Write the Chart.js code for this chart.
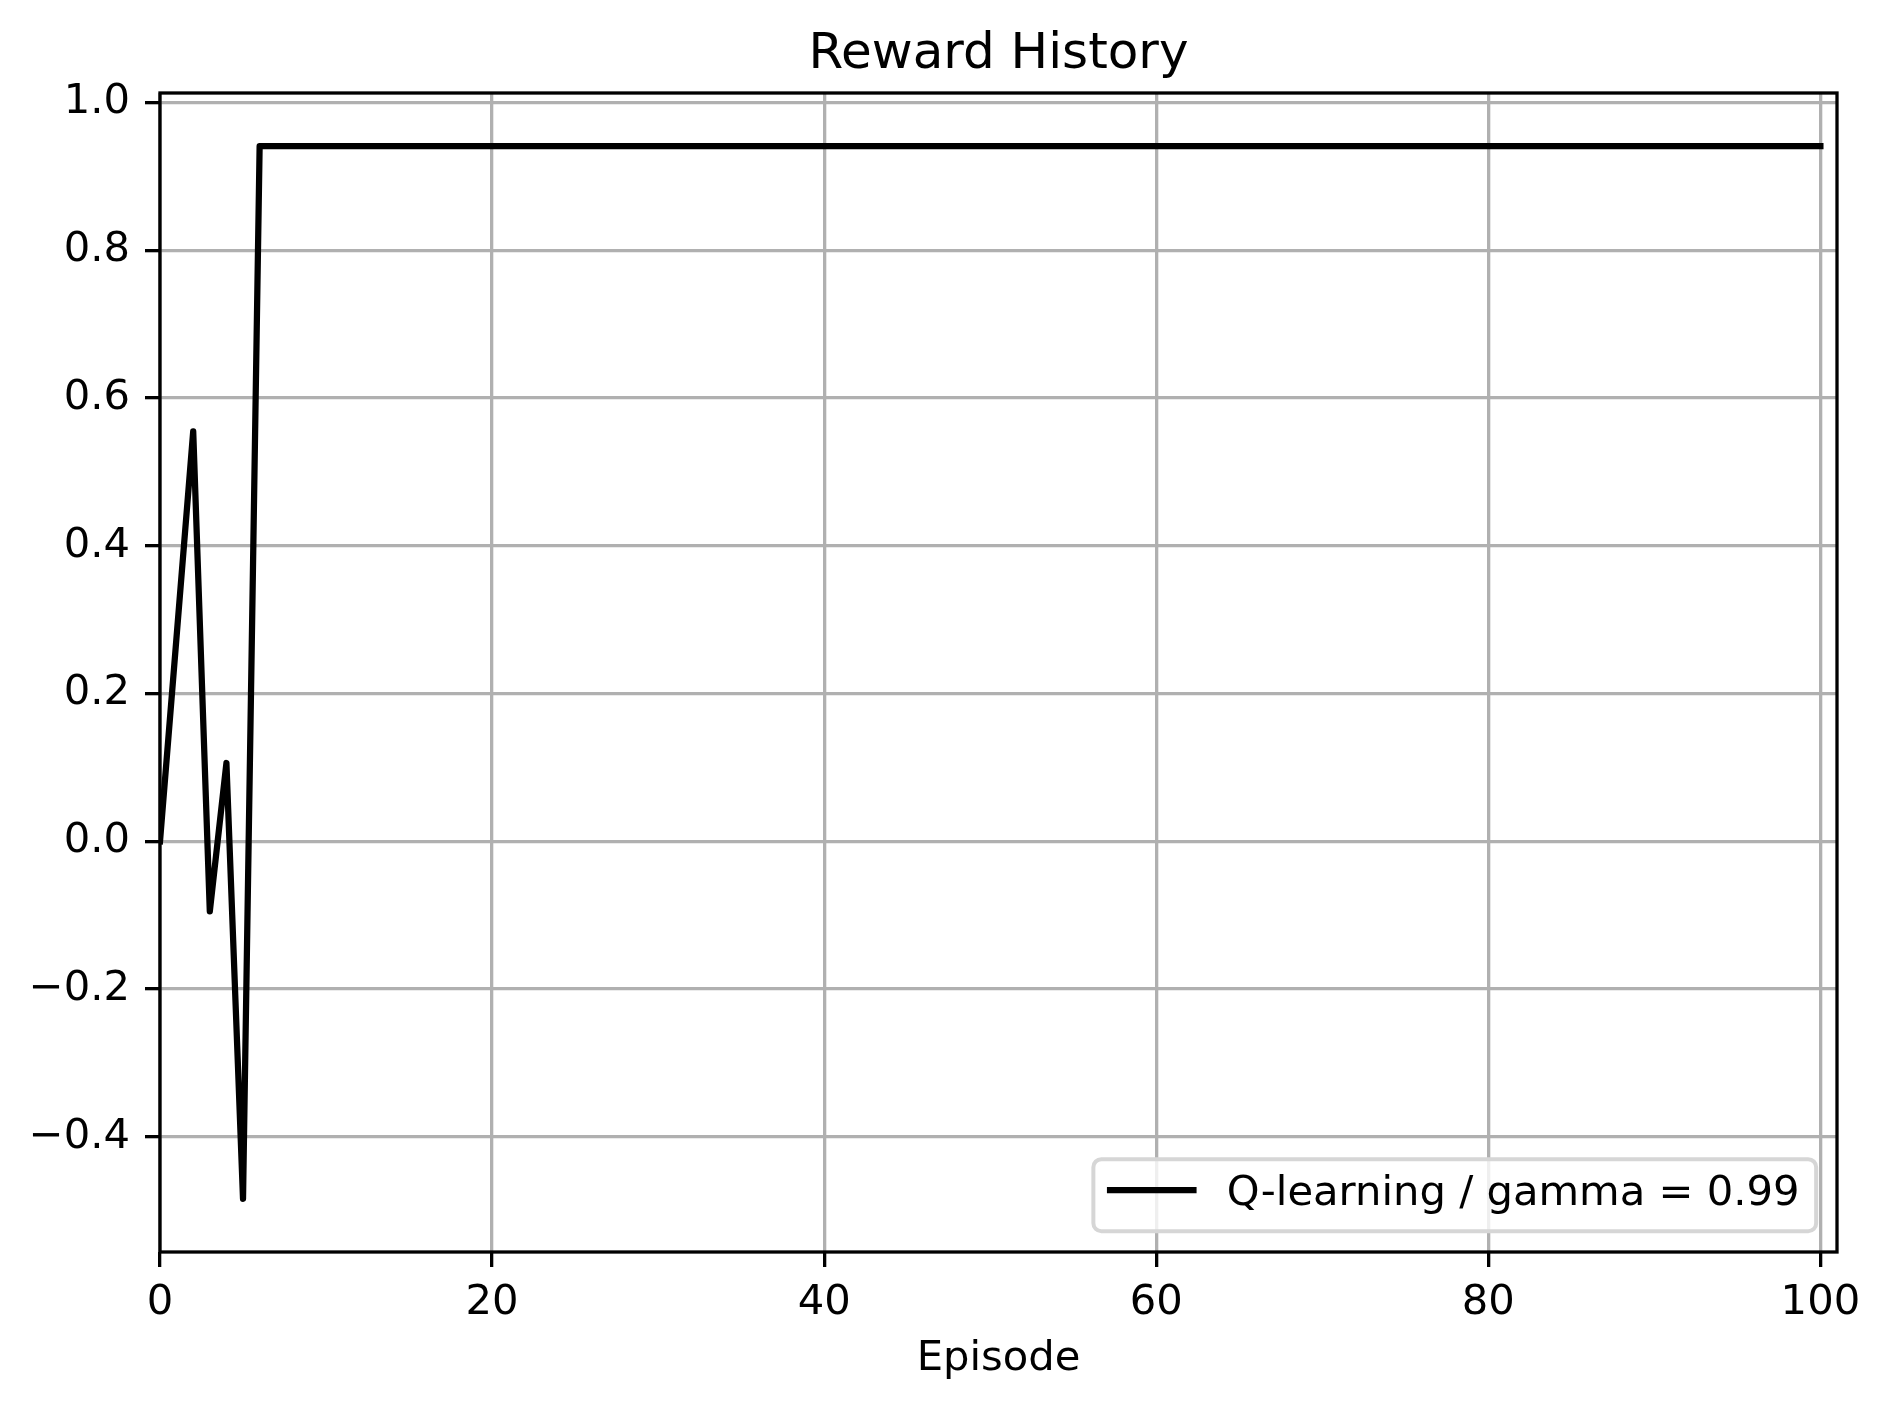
<!DOCTYPE html>
<html>
<head>
<meta charset="utf-8">
<title>Reward History</title>
<script src="https://cdn.jsdelivr.net/npm/chart.js@4.4.1/dist/chart.umd.min.js"></script>
<style>
  body { margin: 0; background: #fff; }
  #wrap { width: 1888px; height: 1408px; }
</style>
</head>
<body>
<div id="wrap"><canvas id="myChart" width="1888" height="1408"></canvas></div>
<script>
// values
let episodes = [0, 2, 3, 4, 5, 6, 100];
let rewards = [0.0, 0.555, -0.095, 0.106, -0.484, 0.941, 0.941];
let xTicks = [0, 20, 40, 60, 80, 100];
let yTicks = [-0.4, -0.2, 0.0, 0.2, 0.4, 0.6, 0.8, 1.0];
let seriesName = "Q-learning / gamma = 0.99";
let chartTitle = "Reward History";
let xTitle = "Episode";

let fontFamily = '"DejaVu Sans", "Liberation Sans", sans-serif';
let fs = 41.7;      // 10pt at 300 dpi
let thin = 3.3;     // 0.8pt

function fmtY(v) {
    if (Math.abs(v) < 1e-9) return "0.0";
    return (v < 0 ? "\u2212" : "") + Math.abs(v).toFixed(1);
}

// top/right spines + title + legend, matplotlib style
let extras = {
    id: "extras",
    afterDatasetsDraw(chart) {
        let ctx = chart.ctx;
        let a = chart.chartArea;
        ctx.save();
        ctx.strokeStyle = "#000";
        ctx.lineWidth = thin;
        ctx.strokeRect(a.left, a.top, a.right - a.left, a.bottom - a.top);
        ctx.restore();
    },
    afterDraw(chart) {
        let ctx = chart.ctx;
        let a = chart.chartArea;
        ctx.save();

        // title
        ctx.fillStyle = "#000";
        ctx.font = "50px " + fontFamily;
        ctx.textAlign = "center";
        ctx.textBaseline = "alphabetic";
        ctx.fillText(chartTitle, (a.left + a.right) / 2, 68);

        // legend, lower right
        ctx.font = fs + "px " + fontFamily;
        let tw = ctx.measureText(seriesName).width;
        let w = 3.6 * fs + tw;
        let h = 72;
        let right = a.right - 0.5 * fs;
        let bottom = a.bottom - 0.5 * fs;
        let left = right - w;
        let top = bottom - h;

        ctx.beginPath();
        ctx.roundRect(left, top, w, h, 8);
        ctx.fillStyle = "rgba(255,255,255,0.8)";
        ctx.fill();
        ctx.lineWidth = 4;
        ctx.strokeStyle = "#d6d6d6";
        ctx.stroke();

        let midY = bottom - 41;
        let hx = left + 0.4 * fs;
        ctx.beginPath();
        ctx.moveTo(hx, midY);
        ctx.lineTo(hx + 2 * fs, midY);
        ctx.lineWidth = 6.25;
        ctx.lineCap = "square";
        ctx.strokeStyle = "#000";
        ctx.stroke();

        ctx.fillStyle = "#000";
        ctx.textAlign = "left";
        ctx.textBaseline = "alphabetic";
        ctx.fillText(seriesName, hx + 2.8 * fs, bottom - 26);

        ctx.restore();
    }
};

let points = episodes.map((e, i) => ({ x: e, y: rewards[i] }));

let chart = new Chart(document.getElementById("myChart"), {
    type: "line",
    data: {
        datasets: [{
            label: seriesName,
            data: points,
            borderColor: "#000",
            borderWidth: 6.25,
            borderJoinStyle: "round",
            borderCapStyle: "square",
            pointRadius: 0,
            tension: 0,
            fill: false
        }]
    },
    options: {
        responsive: false,
        devicePixelRatio: 1,
        animation: false,
        layout: { padding: { top: 93, right: 51, bottom: 0, left: 0 } },
        plugins: {
            legend: { display: false },
            title: { display: false },
            tooltip: { enabled: false }
        },
        scales: {
            x: {
                type: "linear",
                min: 0,
                max: 101,
                afterBuildTicks: s => { s.ticks = xTicks.map(v => ({ value: v })); },
                afterFit: s => { s.height = 156; },
                grid: {
                    color: "#b0b0b0",
                    lineWidth: thin,
                    tickColor: "#000",
                    tickWidth: thin,
                    tickLength: 15
                },
                border: { display: false },
                ticks: {
                    color: "#000",
                    font: { family: fontFamily, size: fs },
                    padding: 11,
                    maxRotation: 0,
                    callback: v => String(v)
                },
                title: {
                    display: true,
                    text: xTitle,
                    color: "#000",
                    font: { family: fontFamily, size: fs, lineHeight: 1.2 },
                    padding: { top: 0, bottom: 24 }
                }
            },
            y: {
                type: "linear",
                min: -0.556,
                max: 1.013,
                afterBuildTicks: s => { s.ticks = yTicks.map(v => ({ value: v })); },
                afterFit: s => { s.width = 160; },
                grid: {
                    color: "#b0b0b0",
                    lineWidth: thin,
                    tickColor: "#000",
                    tickWidth: thin,
                    tickLength: 15
                },
                border: { display: false },
                ticks: {
                    color: "#000",
                    font: { family: fontFamily, size: fs },
                    padding: 15,
                    callback: v => fmtY(v)
                }
            }
        }
    },
    plugins: [extras]
});
</script>
</body>
</html>
